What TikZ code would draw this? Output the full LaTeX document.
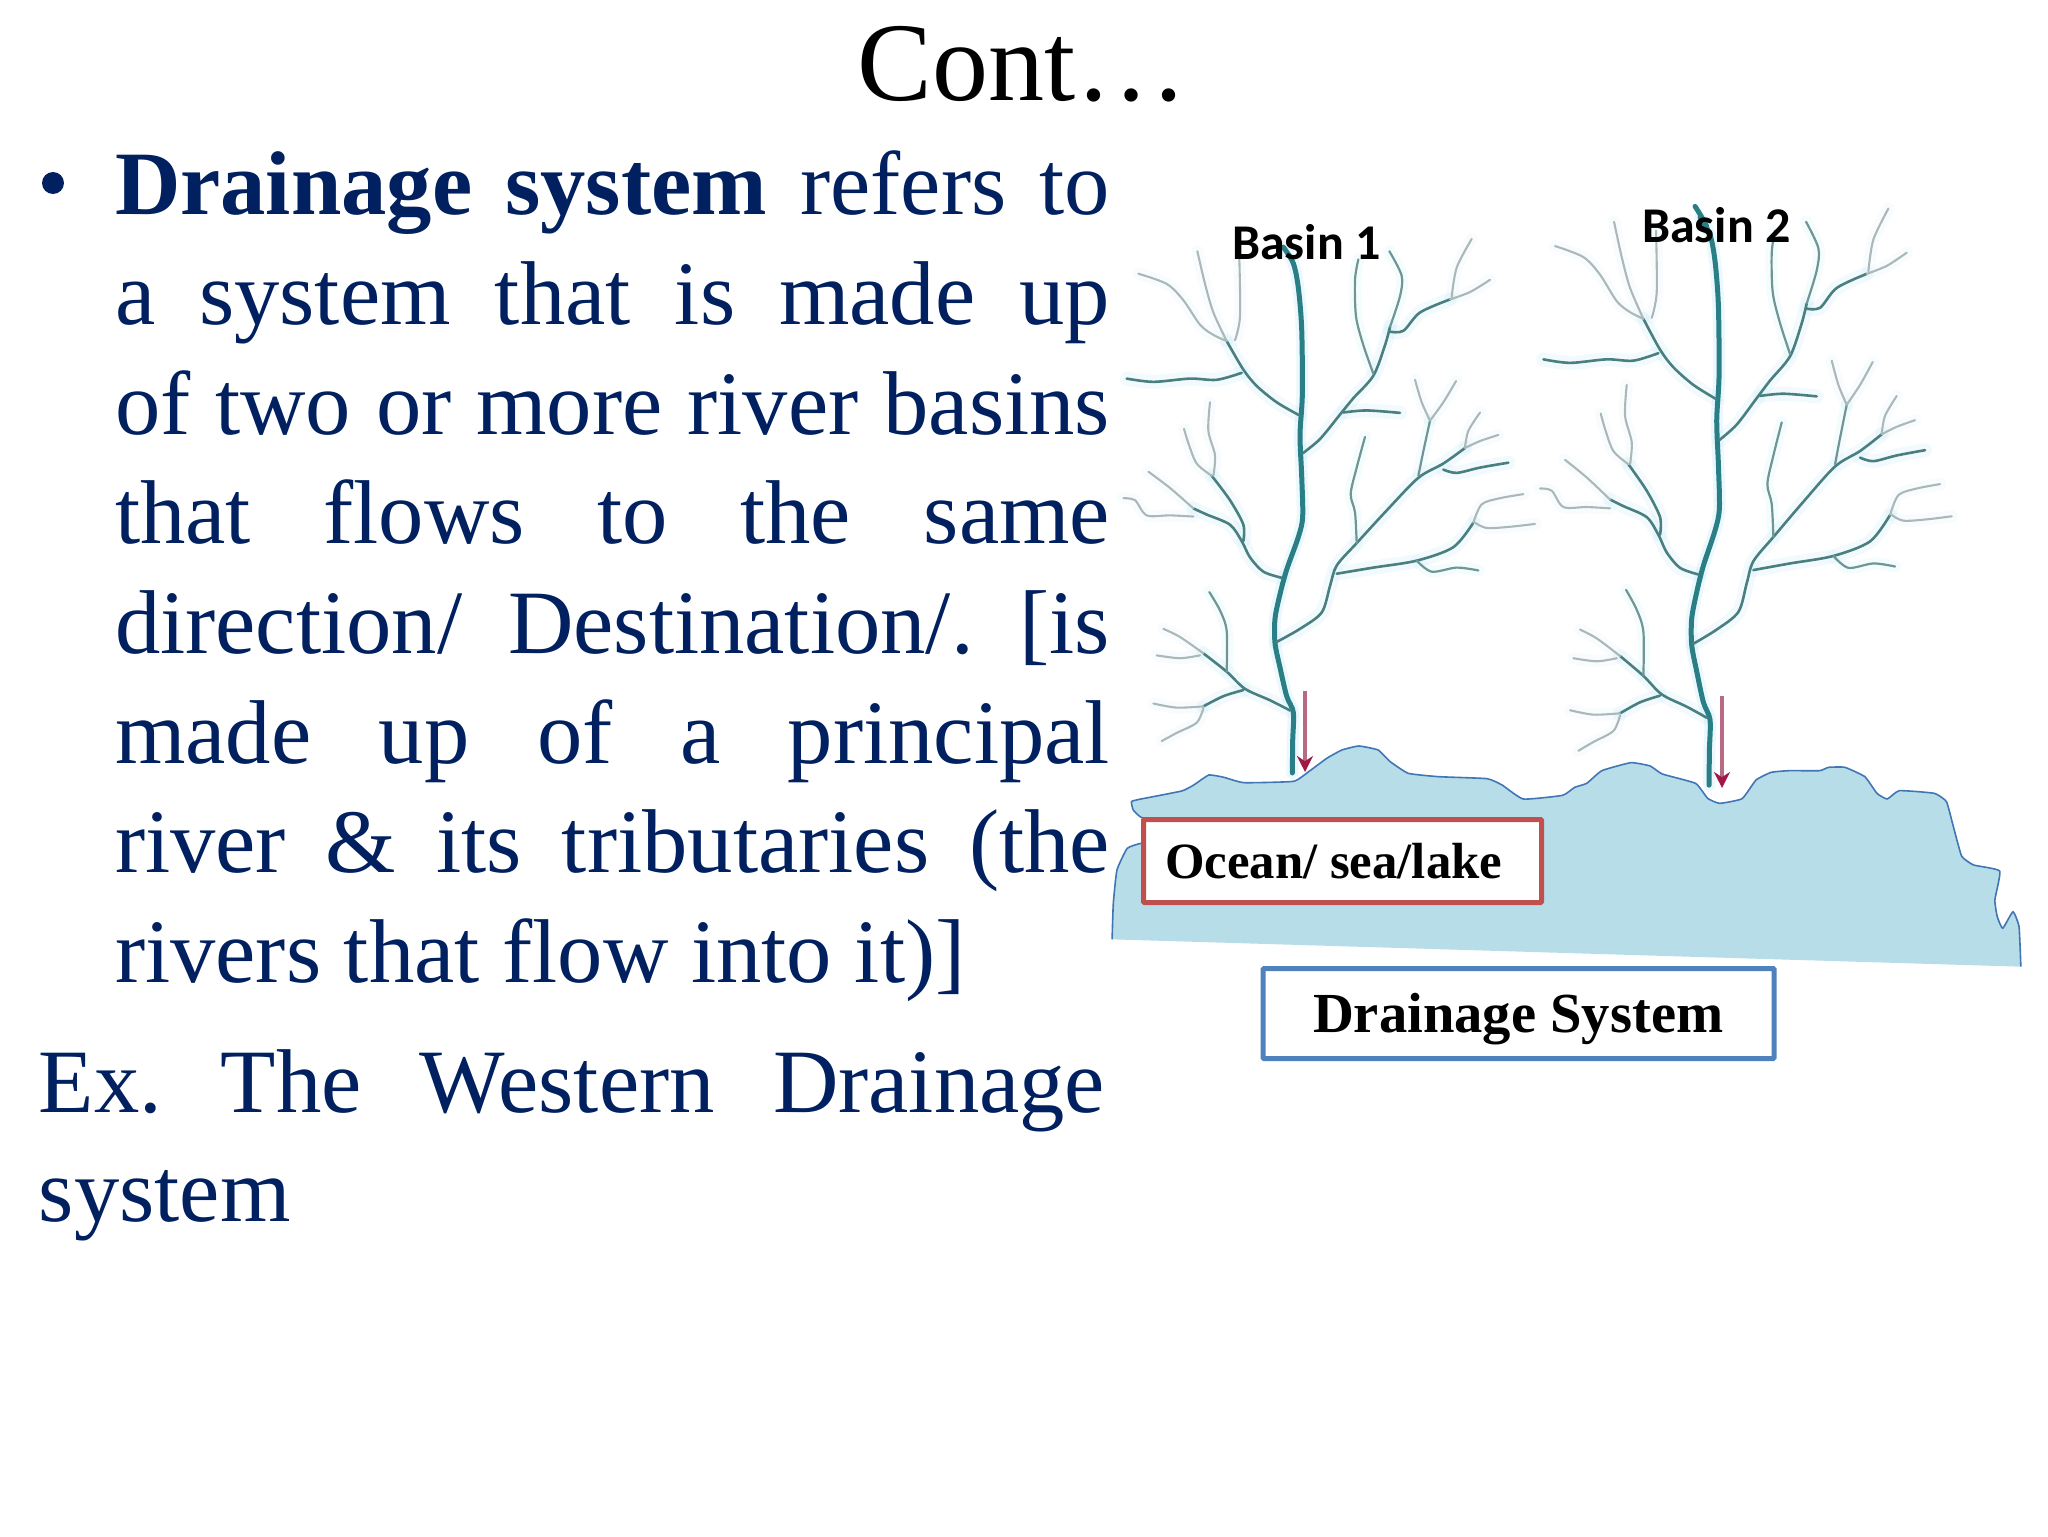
\documentclass[tikz,border=0pt]{standalone}
\usepackage{fontspec}
\setmainfont{Liberation Serif}
\newfontfamily\calibrifont{Carlito}
\usetikzlibrary{arrows.meta}
\definecolor{navy}{HTML}{002060}
\definecolor{water}{HTML}{B7DEE8}
\definecolor{waterline}{HTML}{4176B4}
\definecolor{boxred}{HTML}{C0504D}
\definecolor{boxblue}{HTML}{4F81BD}
\definecolor{flow}{HTML}{B86A82}
\definecolor{flowhead}{HTML}{A01848}
\definecolor{rivermain}{HTML}{2A7F86}
\definecolor{riverdark}{HTML}{4A7F7F}
\definecolor{rivermid}{HTML}{6E9695}
\definecolor{riverpale}{HTML}{ABB8B6}
\tikzset{
  txt/.style={anchor=base west,inner sep=0pt,outer sep=0pt,text=navy},
  bodyfont/.style={font=\fontsize{45.3}{55}\selectfont\frenchspacing},
  label/.style={anchor=base west,inner sep=0pt,outer sep=0pt,text=black,font=\bfseries},
  basinlabel/.style={anchor=base west,inner sep=0pt,outer sep=0pt,text=black,font=\calibrifont\bfseries\fontsize{25}{28}\selectfont},
  framebox/.style={draw,line width=2.5pt,fill=white,minimum width=#1,inner sep=0pt,outer sep=0pt,rounded corners=0.5pt},
  tA/.style={draw=rivermain,line width=2.5pt,line cap=round,line join=round},
  tB/.style={draw=riverdark,line width=1.3pt,line cap=round,line join=round},
  tC/.style={draw=rivermid,line width=1.1pt,line cap=round,line join=round},
  tD/.style={draw=riverpale,line width=1.05pt,line cap=round,line join=round},
  flowarrow/.style={draw=flow,line width=1.8pt,-{Stealth[length=8pt,width=8pt,color=flowhead]}}
}
\newcommand\twig[2]{\draw[#1] plot[smooth,tension=.5] coordinates {#2};}
\newcommand\treepaths{%
 \twig{tA}{(520,140)(550,180)(565,240)(575,340)(577,500)(570,600)(575,700)(578,800)(565,850)(530,930)(510,990)(495,1050)(495,1110)(510,1170)(530,1240)(550,1280)(548,1350)(547,1428)}
 \twig{tB}{(568,552)(500,520)(440,480)(400,440)(350,370)}
 \twig{tD}{(350,370)(310,300)(285,230)(262,150)}
 \twig{tD}{(350,370)(310,355)(270,330)(220,270)(170,230)(85,205)}
 \twig{tD}{(375,368)(390,310)(388,170)}
 \twig{tB}{(395,448)(320,465)(240,462)(130,470)(50,462)}
 \twig{tB}{(578,645)(630,610)(690,550)(730,510)(790,455)(825,380)(840,335)}
 \twig{tC}{(840,335)(870,260)(875,210)(838,150)}
 \twig{tC}{(790,450)(760,380)(738,310)(735,220)(745,170)}
 \twig{tB}{(840,347)(880,345)(930,300)(1020,268)}
 \twig{tD}{(1020,268)(1080,250)(1140,220)}
 \twig{tD}{(1025,262)(1040,190)(1085,120)}
 \twig{tB}{(700,545)(770,540)(870,546)}
 \twig{tB}{(498,1108)(570,1075)(635,1035)(660,970)(680,920)(740,865)(830,785)(925,705)(1000,670)(1065,632)}
 \twig{tD}{(1065,632)(1110,615)(1165,600)}
 \twig{tC}{(925,700)(940,640)(960,565)}
 \twig{tD}{(960,565)(935,520)(915,465)}
 \twig{tD}{(960,565)(1000,520)(1038,468)}
 \twig{tB}{(1000,685)(1040,693)(1110,680)(1195,668)}
 \twig{tD}{(1065,630)(1075,590)(1110,545)}
 \twig{tC}{(740,865)(735,790)(722,745)(740,680)(765,605)}
 \twig{tB}{(680,940)(790,925)(920,908)(1030,875)(1090,815)}
 \twig{tD}{(1090,815)(1115,770)(1170,755)(1240,745)}
 \twig{tD}{(1095,815)(1130,828)(1200,825)(1275,818)}
 \twig{tC}{(920,908)(965,935)(1040,925)(1105,932)}
 \twig{tB}{(515,950)(460,935)(420,900)(395,860)(360,820)(290,795)(250,780)}
 \twig{tD}{(250,780)(180,730)(115,690)}
 \twig{tD}{(250,800)(180,797)(110,797)(75,760)(40,755)}
 \twig{tB}{(400,860)(400,820)(360,760)(305,700)}
 \twig{tD}{(305,700)(260,670)(235,620)(222,585)}
 \twig{tD}{(310,700)(315,650)(295,590)(300,520)}
 \twig{tB}{(540,1275)(480,1250)(405,1222)(350,1180)(280,1135)}
 \twig{tD}{(280,1135)(210,1095)(160,1075)}
 \twig{tC}{(350,1180)(350,1080)(330,1030)(298,985)}
 \twig{tD}{(270,1140)(210,1147)(140,1140)}
 \twig{tB}{(400,1225)(340,1240)(280,1265)}
 \twig{tD}{(280,1265)(200,1268)(130,1258)}
 \twig{tD}{(280,1270)(260,1305)(200,1330)(155,1350)}
}
\newcommand\glowtree{%
 \begin{scope}[tA/.style={draw=cyan!35,line width=6pt,opacity=.22,line cap=round},
   tB/.style={draw=cyan!35,line width=7pt,opacity=.14,line cap=round},
   tC/.style={draw=cyan!35,line width=6pt,opacity=.10,line cap=round},
   tD/.style={draw=cyan!35,line width=6pt,opacity=.07,line cap=round}]
 \treepaths
 \end{scope}}
\newcommand\waterpts{(20,628)(22,520)(28,420)(45,355)(68,340)(100,340)(100,275)(68,262)(55,240)(52,215)(65,208)(135,183)(155,165)(180,135)(205,142)(238,158)(320,154)(345,125)(375,85)(400,60)(428,48)(460,60)(480,95)(510,130)(560,140)(640,146)(665,165)(700,207)(765,196)(785,172)(805,160)(830,122)(878,98)(910,108)(930,132)(985,160)(1005,205)(1025,220)(1062,206)(1085,150)(1110,127)(1140,122)(1190,122)(1205,112)(1232,112)(1265,140)(1285,190)(1302,207)(1322,182)(1380,190)(1400,215)(1410,280)(1425,378)(1445,405)(1488,423)(1480,510)(1484,560)(1493,595)(1510,545)(1520,590)(1523,710)}
\begin{document}
\begin{tikzpicture}[x=0.5pt,y=-0.5pt]
\useasboundingbox (0,0) rectangle (2048,1536);
\fill[white] (0,0) rectangle (2048,1536);

% title
\node[anchor=base west,inner sep=0pt,text=black,font=\fontsize{56}{60}\selectfont] (title) at (857,100.7) {Cont…};

% body text
\fill[navy] (53,183) circle (11);
\node[txt,bodyfont] (l1) at (115,214.5) {\makebox[497.5pt][s]{\textbf{Drainage system} refers to}};
\node[txt,bodyfont] (l2) at (115,324.3) {\makebox[497.5pt][s]{a system that is made up}};
\node[txt,bodyfont] (l3) at (115,434) {\makebox[497.5pt][s]{of two or more river basins}};
\node[txt,bodyfont] (l4) at (115,543.7) {\makebox[497.5pt][s]{that flows to the same}};
\node[txt,bodyfont] (l5) at (115,653.4) {\makebox[497.5pt][s]{direction/ Destination/. [is}};
\node[txt,bodyfont] (l6) at (115,763) {\makebox[497.5pt][s]{made up of a principal}};
\node[txt,bodyfont] (l7) at (115,872.7) {\makebox[497.5pt][s]{river \& its tributaries (the}};
\node[txt,bodyfont] (l8) at (115,982.3) {rivers that flow into it)]};
\node[txt,bodyfont] (l9) at (39,1112) {\makebox[533pt][s]{Ex. The Western Drainage}};
\node[txt,bodyfont] (l10) at (39,1221.5) {system};

% water body
\begin{scope}[shift={(1100,730)},x=0.3023pt,y=-0.16667pt]
 \fill[water] plot[smooth,tension=.25] coordinates {\waterpts} -- cycle;
 \draw[waterline,line width=0.8pt,line join=round] plot[smooth,tension=.25] coordinates {\waterpts};
\end{scope}

% basin 1
\begin{scope}[shift={(1110,190)},x=0.16667pt,y=-0.2041pt]
 \glowtree \treepaths
\end{scope}
% basin 2
\begin{scope}[shift={(1526.7,155.7)},x=0.16667pt,y=-0.2204pt]
 \glowtree \treepaths
 \twig{tA}{(505,115)(520,133)(540,160)}
\end{scope}

% flow arrows
\coordinate (a1s) at (1305,691); \coordinate (a1e) at (1305,772);
\coordinate (a2s) at (1722,696); \coordinate (a2e) at (1722,788);
\draw[flowarrow] (a1s) -- (a1e);
\draw[flowarrow] (a2s) -- (a2e);

% labels
\node[basinlabel] (b1) at (1232,259.5) {Basin 1};
\node[basinlabel] (b2) at (1642,242.5) {Basin 2};

% boxes
\node[framebox=199pt,draw=boxred,minimum height=41.5pt] (ocean) at (1342.5,861) {};
\node[framebox=255.5pt,draw=boxblue,minimum height=45pt] (system) at (1518.5,1013.5) {};
\node[label,font=\bfseries\fontsize{25.4}{30}\selectfont] (oceantext) at (1165,878) {Ocean/ sea/lake};
\node[label,font=\bfseries\fontsize{28.3}{32}\selectfont] (systemtext) at (1313,1032) {Drainage System};
\end{tikzpicture}
\end{document}
